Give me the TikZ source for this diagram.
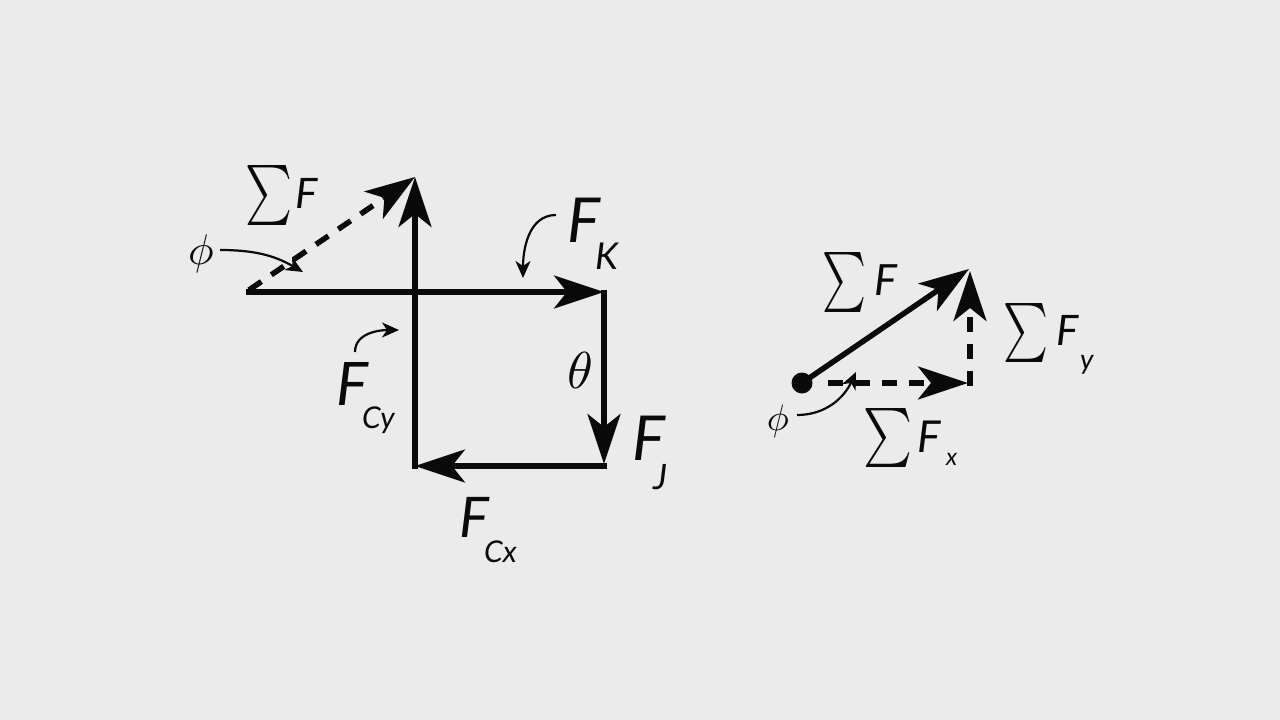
\documentclass[tikz,border=0pt]{standalone}
\usepackage{fontspec}
\usepackage{graphicx}
\usetikzlibrary{arrows.meta}
\setsansfont{Lato}
\newfontfamily\labfont{Lato}[ItalicFont=* Italic]
\definecolor{paper}{RGB}{235,235,235}
\definecolor{ink}{RGB}{10,10,10}
\newcommand{\Fsz}[1]{\fontsize{#1}{#1}\selectfont\labfont\itshape}
\newcommand{\SumSym}[2]{\resizebox*{#1}{#2}{$\sum$}}
% F with a detached subscript: size of F, x/y offset of subscript, size of subscript, subscript text
\newcommand{\FSub}[5]{\Fsz{#1}\rlap{\hspace*{#2}\raisebox{#3}{\Fsz{#4}#5}}F}
\tikzset{
  vec/.style={draw=ink, line width=5.5pt, -{Stealth[length=50pt,width=33pt,inset=13pt]}},
  dvec/.style={vec, dash pattern=on 15pt off 12pt},
  thin arr/.style={draw=ink, line width=2.2pt, -{Stealth[length=17pt,width=15pt,inset=5pt]}},
  lbl/.style={inner sep=0pt, outer sep=0pt, text=ink},
}
\begin{document}
\begin{tikzpicture}[x=1pt,y=-1pt]
\fill[paper] (0,0) rectangle (1280,720);
\useasboundingbox (0,0) rectangle (1280,720);

% ---------- left diagram ----------
\coordinate (L) at (246,292);
\coordinate (TRs) at (604,289.5);
\coordinate (TR) at (604,292);
\coordinate (BR) at (604,464);
\coordinate (BRs) at (606.5,466);
\coordinate (BL) at (415,466);
\coordinate (BLs) at (415,468.5);
\coordinate (TOP) at (415,177);
\coordinate (DS) at (249,290);

\draw[vec] (L) -- (TR);
\draw[vec] (TRs) -- (BR);
\draw[vec] (BRs) -- (BL);
\draw[vec] (BLs) -- (TOP);
\draw[dvec] (DS) -- (TOP);

% labels left
\node[lbl, anchor=north west] (sumL) at (245,165) {\SumSym{47pt}{60pt}};
\node[lbl, anchor=base west] (FL) at (295,208) {\Fsz{42pt}F};
\node[lbl] (phiL) at (201,254) {\scalebox{4.3}{$\phi$}};
\coordinate (phiLend) at (303,272);
\draw[thin arr] (220,250) to[out=0,in=150] (phiLend);

\node[lbl, anchor=base west] (FK) at (567,242) {\FSub{62pt}{28pt}{-27pt}{37pt}{K}};
\coordinate (FKa) at (556,215);
\coordinate (FKb) at (523,278);
\draw[thin arr] (FKa) to[out=180,in=90] (FKb);

\node[lbl, anchor=base west] (FCy) at (336,405) {\FSub{60pt}{26pt}{-23pt}{30pt}{Cy}};
\coordinate (FCya) at (355,352);
\coordinate (FCyb) at (399,330);
\draw[thin arr] (FCya) to[out=90,in=180] (FCyb);

\node[lbl] (theta) at (580,370) {\scalebox{5.2}{$\theta$}};

\node[lbl, anchor=base west] (FJ) at (632,460) {\FSub{62pt}{21pt}{-29pt}{35pt}{J}};

\node[lbl, anchor=base west] (FCx) at (459,537) {\FSub{56pt}{25pt}{-25pt}{30pt}{Cx}};

% ---------- right diagram ----------
\coordinate (O) at (802,383);
\coordinate (R) at (969,269);
\coordinate (XS) at (828,383);
\coordinate (XE) at (968,383);
\coordinate (YS) at (970,385.5);
\coordinate (YE) at (970,271);

\fill[ink] (O) circle (10.5pt);
\draw[vec] (O) -- (R);
\draw[dvec] (XS) -- (XE);
\draw[dvec] (YS) -- (YE);

\node[lbl, anchor=north west] (sumR) at (822,252) {\SumSym{44pt}{60pt}};
\node[lbl, anchor=base west] (FR) at (874,295) {\Fsz{43pt}F};

\node[lbl, anchor=north west] (sumY) at (1003,303) {\SumSym{45pt}{59pt}};
\node[lbl, anchor=base west] (FY) at (1056,345) {\FSub{42pt}{24pt}{-24pt}{28pt}{y}};

\node[lbl, anchor=north west] (sumX) at (863,408) {\SumSym{49pt}{59pt}};
\node[lbl, anchor=base west] (FX) at (917,452) {\FSub{44pt}{29pt}{-13pt}{24pt}{x}};

\node[lbl] (phiR) at (778,421) {\scalebox{3.7}{$\phi$}};
\coordinate (phiRa) at (797,415);
\coordinate (phiRb) at (856,372);
\draw[thin arr] (phiRa) to[out=0,in=245] (phiRb);
\end{tikzpicture}
\end{document}
